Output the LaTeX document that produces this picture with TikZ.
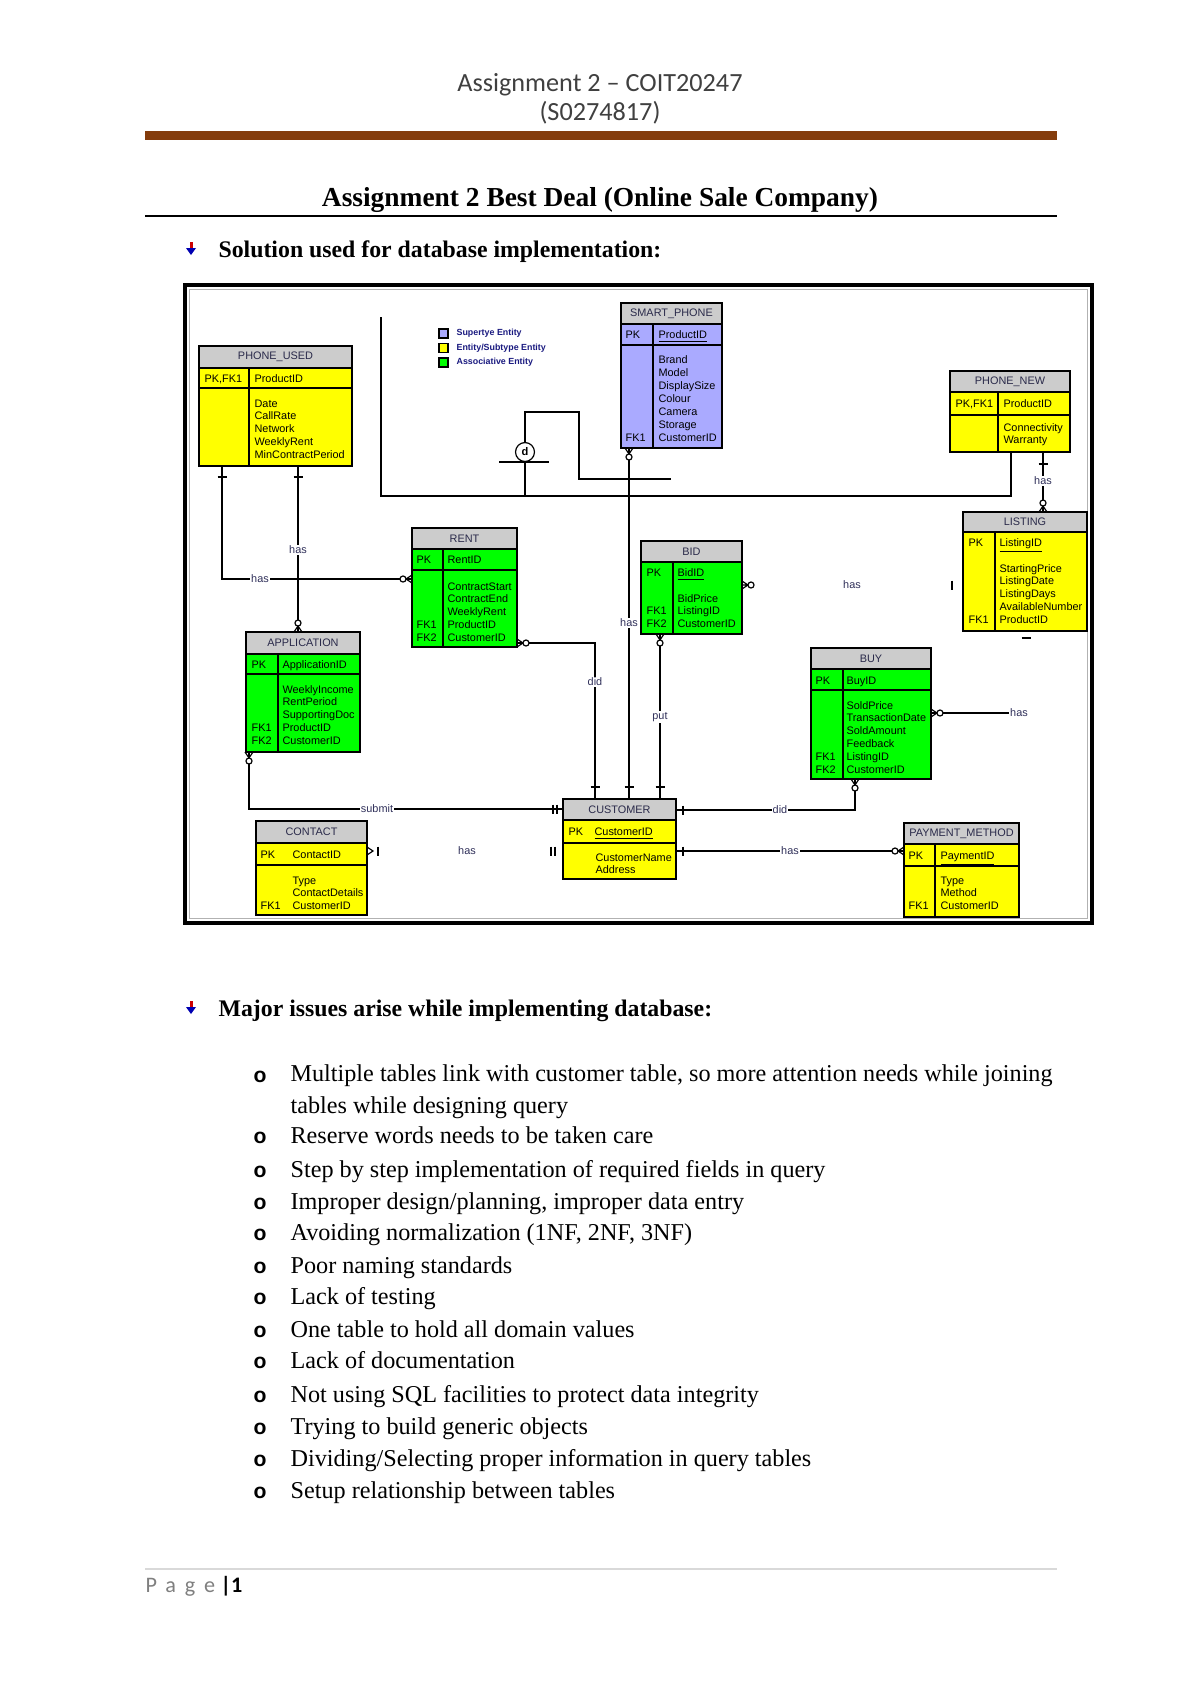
\documentclass[tikz,border=0pt]{standalone}
\usepackage{fontspec}
\setmainfont{Liberation Serif}
\newfontfamily\hdrfont{Carlito}
\newfontfamily\pagefont[LetterSpace=40]{Carlito}
\newfontfamily\erfont{Liberation Sans}
\usetikzlibrary{calc,fit}

\definecolor{barbrown}{HTML}{843C0C}
\definecolor{supcol}{HTML}{AAAAFF}
\definecolor{entcol}{HTML}{FFFF00}
\definecolor{asscol}{HTML}{00FF00}
\definecolor{headcol}{HTML}{CCCCCC}
\definecolor{titlecol}{HTML}{2A2A4A}
\definecolor{relcol}{HTML}{30305A}
\definecolor{legcol}{HTML}{1A1A80}
\definecolor{hdrgray}{HTML}{404040}
\definecolor{pagegray}{HTML}{7F7F7F}
\definecolor{rulegray}{HTML}{D9D9D9}

\begin{document}
\begin{tikzpicture}[x=0.496pt,y=-0.496pt,line width=0.6pt,
  ent/.style={draw,inner sep=0pt,outer sep=0pt},
  erfnt/.style={font=\erfont\fontsize{5.4}{6.4}\selectfont},
  etitle/.style={erfnt,text=titlecol,inner sep=0pt},
  ecol/.style={erfnt,anchor=base west,align=left,inner sep=0pt},
  rel/.style={erfnt,text=relcol,fill=white,inner sep=0.5pt},
  legbox/.style={draw,minimum size=4.4pt,inner sep=0pt},
  legtxt/.style={font=\erfont\bfseries\fontsize{4.4}{5}\selectfont,text=legcol,anchor=west,inner sep=0pt},
  dcirc/.style={circle,draw,fill=white,minimum size=9.4pt,inner sep=0pt,font=\erfont\bfseries\fontsize{5.5}{6}\selectfont},
  zmany/.pic={\draw (0,-4) -- (6,0) -- (0,4) (0,0) -- (6,0);
              \draw[fill=white] (9,0) circle (1.5pt);},
  onebar/.pic={\draw (0,-4.5) -- (0,4.5);},
  hdr/.style={font=\hdrfont\fontsize{13}{15}\selectfont,text=hdrgray,anchor=base,inner sep=0pt},
  bodytxt/.style={font=\fontsize{12}{15.4}\selectfont,anchor=base west,inner sep=0pt,align=left},
  headtxt/.style={font=\bfseries\fontsize{11.8}{14}\selectfont,anchor=base west,inner sep=0pt},
  bul/.style={font=\erfont\bfseries\fontsize{10.5}{12}\selectfont,anchor=base,inner sep=0pt}]

  \path[fill=white] (0,0) rectangle (1200,1698);

  % page header
  \node[hdr] (hd1) at (600,91) {Assignment 2 – COIT20247};
  \node[hdr] (hd2) at (600,120) {(S0274817)};
  \fill[barbrown] (145,131) rectangle (1057,140);
  \node[font=\bfseries\fontsize{13.6}{15}\selectfont,anchor=base,inner sep=0pt] (title) at (600,206)
      {Assignment 2 Best Deal (Online Sale Company)};
  \draw[line width=1.1pt] (145,216) -- (1057,216);

  \fill[red!80!black] (189.5,242) rectangle (192.5,249);
  \fill[blue!70!black] (186,248) -- (196,248) -- (191,255) -- cycle;
  \node[headtxt] (sol) at (218,257) {Solution used for database implementation:};

  % frame
  \draw[line width=2pt] (185,285) rectangle (1092,923);
  \draw[gray!60,line width=0.5pt] (189.5,289.5) rectangle (1087.5,918.5);

  % legend
  \node[legbox,fill=supcol] (lg1) at (443.5,333.5) {};
  \node[legbox,fill=entcol] (lg2) at (443.5,348) {};
  \node[legbox,fill=asscol] (lg3) at (443.5,362.5) {};
  \node[legtxt] (lt1) at (456,333.5) {Supertye Entity};
  \node[legtxt] (lt2) at (456,348) {Entity/Subtype Entity};
  \node[legtxt] (lt3) at (456,362.5) {Associative Entity};

  % PHONE_USED
  \fill[entcol] (199,346) rectangle (352,466);
  \fill[headcol] (199,346) rectangle (352,368);
  \draw (199,368) -- (352,368) (199,388) -- (352,388) (249,368) -- (249,466);
  \node[ent,fit={(199,346) (352,466)}] (pu) {};
  \node[etitle] (pu-t) at (275.5,357) {PHONE\_USED};
  \node[ecol] (pu-pk) at (204,382) {PK,FK1};
  \node[ecol] (pu-id) at (254,382) {ProductID};
  \node[ecol] (pu-a) at (254,458.6) {Date\\CallRate\\Network\\WeeklyRent\\MinContractPeriod};

  % SMART_PHONE
  \fill[supcol] (621,303) rectangle (722,448);
  \fill[headcol] (621,303) rectangle (722,324);
  \draw (621,324) -- (722,324) (621,345) -- (722,345) (653,324) -- (653,448);
  \node[ent,fit={(621,303) (722,448)}] (sp) {};
  \node[etitle] (sp-t) at (671.5,313.5) {SMART\_PHONE};
  \node[ecol] (sp-pk) at (625,338) {PK};
  \node[ecol] (sp-id) at (658,338) {\underline{ProductID}};
  \node[ecol] (sp-k) at (625,441.4) {~\\~\\~\\~\\~\\~\\FK1};
  \node[ecol] (sp-a) at (658,441.4) {Brand\\Model\\DisplaySize\\Colour\\Camera\\Storage\\CustomerID};

  % PHONE_NEW
  \fill[entcol] (950,371) rectangle (1070,452);
  \fill[headcol] (950,371) rectangle (1070,392);
  \draw (950,392) -- (1070,392) (950,415) -- (1070,415) (998,392) -- (998,452);
  \node[ent,fit={(950,371) (1070,452)}] (pn) {};
  \node[etitle] (pn-t) at (1010,381.5) {PHONE\_NEW};
  \node[ecol] (pn-pk) at (955,407.5) {PK,FK1};
  \node[ecol] (pn-id) at (1003,407.5) {ProductID};
  \node[ecol] (pn-a) at (1003,443.9) {Connectivity\\Warranty};

  % RENT
  \fill[asscol] (412,528) rectangle (517,647);
  \fill[headcol] (412,528) rectangle (517,549);
  \draw (412,549) -- (517,549) (412,570) -- (517,570) (443,549) -- (443,647);
  \node[ent,fit={(412,528) (517,647)}] (rent) {};
  \node[etitle] (rent-t) at (464.5,538.5) {RENT};
  \node[ecol] (rent-pk) at (416,563.5) {PK};
  \node[ecol] (rent-id) at (447,563.5) {RentID};
  \node[ecol] (rent-k) at (416,641.6) {~\\~\\~\\FK1\\FK2};
  \node[ecol] (rent-a) at (447,641.6) {ContractStart\\ContractEnd\\WeeklyRent\\ProductID\\CustomerID};

  % APPLICATION
  \fill[asscol] (246,632) rectangle (360,752);
  \fill[headcol] (246,632) rectangle (360,654);
  \draw (246,654) -- (360,654) (246,674) -- (360,674) (278,654) -- (278,752);
  \node[ent,fit={(246,632) (360,752)}] (app) {};
  \node[etitle] (app-t) at (303,643) {APPLICATION};
  \node[ecol] (app-pk) at (251,668) {PK};
  \node[ecol] (app-id) at (282,668) {ApplicationID};
  \node[ecol] (app-k) at (251,744.6) {~\\~\\~\\FK1\\FK2};
  \node[ecol] (app-a) at (282,744.6) {WeeklyIncome\\RentPeriod\\SupportingDoc\\ProductID\\CustomerID};

  % BID
  \fill[asscol] (641,541) rectangle (742,634);
  \fill[headcol] (641,541) rectangle (742,562);
  \draw (641,562) -- (742,562) (673,562) -- (673,634);
  \node[ent,fit={(641,541) (742,634)}] (bid) {};
  \node[etitle] (bid-t) at (691.5,551.5) {BID};
  \node[ecol] (bid-pk) at (646,576) {PK};
  \node[ecol] (bid-id) at (677,576) {\underline{BidID}};
  \node[ecol] (bid-k) at (646,627.8) {~\\FK1\\FK2};
  \node[ecol] (bid-a) at (677,627.8) {BidPrice\\ListingID\\CustomerID};

  % LISTING
  \fill[entcol] (963,512) rectangle (1087,631);
  \fill[headcol] (963,512) rectangle (1087,532);
  \draw (963,532) -- (1087,532) (995,532) -- (995,631);
  \node[ent,fit={(963,512) (1087,631)}] (list) {};
  \node[etitle] (list-t) at (1025,522) {LISTING};
  \node[ecol] (list-pk) at (968,546) {PK};
  \node[ecol] (list-id) at (999,546) {\underline{ListingID}};
  \node[ecol] (list-k) at (968,623.6) {~\\~\\~\\~\\FK1};
  \node[ecol] (list-a) at (999,623.6) {StartingPrice\\ListingDate\\ListingDays\\AvailableNumber\\ProductID};

  % BUY
  \fill[asscol] (811,648) rectangle (931,779);
  \fill[headcol] (811,648) rectangle (931,669);
  \draw (811,669) -- (931,669) (811,690) -- (931,690) (843,669) -- (843,779);
  \node[ent,fit={(811,648) (931,779)}] (buy) {};
  \node[etitle] (buy-t) at (871,658.5) {BUY};
  \node[ecol] (buy-pk) at (815,684) {PK};
  \node[ecol] (buy-id) at (846,684) {\underline{BuyID}};
  \node[ecol] (buy-k) at (815,773.5) {~\\~\\~\\~\\FK1\\FK2};
  \node[ecol] (buy-a) at (846,773.5) {SoldPrice\\TransactionDate\\SoldAmount\\Feedback\\ListingID\\CustomerID};

  % CUSTOMER
  \fill[entcol] (563,799) rectangle (676,879);
  \fill[headcol] (563,799) rectangle (676,820);
  \draw (563,820) -- (676,820) (563,843) -- (676,843);
  \node[ent,fit={(563,799) (676,879)}] (cust) {};
  \node[etitle] (cust-t) at (619.5,809.5) {CUSTOMER};
  \node[ecol] (cust-pk) at (568,835) {PK};
  \node[ecol] (cust-id) at (594,835) {\underline{CustomerID}};
  \node[ecol] (cust-a) at (595,873.9) {CustomerName\\Address};

  % CONTACT
  \fill[entcol] (256,821) rectangle (367,915);
  \fill[headcol] (256,821) rectangle (367,843);
  \draw (256,843) -- (367,843) (256,865) -- (367,865);
  \node[ent,fit={(256,821) (367,915)}] (cont) {};
  \node[etitle] (cont-t) at (311.5,832) {CONTACT};
  \node[ecol] (cont-pk) at (260,858) {PK};
  \node[ecol] (cont-id) at (292,858) {ContactID};
  \node[ecol] (cont-k) at (260,909.8) {~\\~\\FK1};
  \node[ecol] (cont-a) at (292,909.8) {Type\\ContactDetails\\CustomerID};

  % PAYMENT_METHOD
  \fill[entcol] (904,823) rectangle (1019,917);
  \fill[headcol] (904,823) rectangle (1019,844);
  \draw (904,844) -- (1019,844) (904,866) -- (1019,866) (935,844) -- (935,917);
  \node[ent,fit={(904,823) (1019,917)}] (pm) {};
  \node[etitle] (pm-t) at (961.5,833.5) {PAYMENT\_METHOD};
  \node[ecol] (pm-pk) at (908,859) {PK};
  \node[ecol] (pm-id) at (940,859) {\underline{PaymentID}};
  \node[ecol] (pm-k) at (908,909.8) {~\\~\\FK1};
  \node[ecol] (pm-a) at (940,909.8) {Type\\Method\\CustomerID};

  % subtype lines
  \coordinate (supend) at (381,317);
  \coordinate (subend) at (671,479);
  \draw (supend) |- ($(pn.south west)+(61,44)$) -- ($(pn.south west)+(61,0)$);
  \node[dcirc] (dsub) at (525,452) {d};
  \draw (dsub.south) -- ++(0,35);
  \draw (dsub.north) |- (579,412) |- (subend);
  \draw ($(dsub.south)+(-26,0)$) -- ($(dsub.south)+(24,0)$);

  % relationships
  \draw ($(pu.south west)+(23,0)$) |- ($(rent.north west)+(0,51)$);
  \draw ($(pu.south west)+(99,0)$) -- ($(app.north west)+(52,0)$);
  \draw ($(app.south west)+(3,0)$) |- ($(cust.north west)+(0,10)$);
  \draw ($(rent.south east)+(0,-4)$) -| ($(cust.north west)+(32,0)$);
  \draw ($(sp.south west)+(8,0)$) -- ($(cust.north west)+(66,0)$);
  \draw ($(bid.south west)+(19,0)$) -- ($(cust.north west)+(97,0)$);
  \draw ($(buy.south west)+(44,0)$) |- ($(cust.north east)+(0,11)$);
  \draw ($(cust.north east)+(0,52)$) -- ($(pm.north west)+(0,28)$);
  \draw ($(pn.south west)+(93,0)$) -- ($(list.north west)+(80,0)$);
  \node[rel] (buyhas) at (1019,713) {has};
  \draw ($(buy.north east)+(0,65)$) -- (buyhas.west);
  \draw ($(cont.north east)+(0,26)$) -- ($(cont.north east)+(6,30)$) -- ($(cont.north east)+(0,34)$);

  % many ends
  \pic[rotate=180] at ($(rent.north west)+(0,51)$) {zmany};
  \pic[rotate=90] at ($(app.north west)+(52,0)$) {zmany};
  \pic[rotate=-90] at ($(app.south west)+(3,0)$) {zmany};
  \pic at ($(rent.south east)+(0,-4)$) {zmany};
  \pic[rotate=-90] at ($(sp.south west)+(8,0)$) {zmany};
  \pic[rotate=-90] at ($(bid.south west)+(19,0)$) {zmany};
  \pic[rotate=-90] at ($(buy.south west)+(44,0)$) {zmany};
  \pic[rotate=180] at ($(pm.north west)+(0,28)$) {zmany};
  \pic[rotate=90] at ($(list.north west)+(80,0)$) {zmany};
  \pic at ($(bid.north east)+(0,44)$) {zmany};
  \pic at ($(buy.north east)+(0,65)$) {zmany};

  % one ends
  \pic[rotate=90] at ($(pu.south west)+(23,11)$) {onebar};
  \pic[rotate=90] at ($(pu.south west)+(99,11)$) {onebar};
  \pic[rotate=90] at ($(cust.north west)+(32,-12)$) {onebar};
  \pic[rotate=90] at ($(cust.north west)+(66,-12)$) {onebar};
  \pic[rotate=90] at ($(cust.north west)+(97,-12)$) {onebar};
  \pic at ($(cust.north west)+(-10,10)$) {onebar};
  \pic at ($(cust.north west)+(-6,10)$) {onebar};
  \pic at ($(cust.north east)+(7,11)$) {onebar};
  \pic at ($(cust.north east)+(7,52)$) {onebar};
  \pic[rotate=90] at ($(pn.south west)+(93,12)$) {onebar};
  \pic[rotate=90] at ($(list.south west)+(63,7)$) {onebar};
  \pic at (952,585) {onebar};
  \pic at ($(cont.north east)+(11,30)$) {onebar};
  \pic at ($(cust.north west)+(-12,52)$) {onebar};
  \pic at ($(cust.north west)+(-8,52)$) {onebar};

  % relationship labels
  \node[rel] (l-pur) at (260,579) {has};
  \node[rel] (l-pua) at (298,550) {has};
  \node[rel] (l-sub) at (377,809) {submit};
  \node[rel] (l-rc) at (595,682) {did};
  \node[rel] (l-sc) at (629,623) {has};
  \node[rel] (l-bc) at (660,717) {put};
  \node[rel] (l-yc) at (780,810) {did};
  \node[rel] (l-cp) at (790,851) {has};
  \node[rel] (l-pl) at (1043,481) {has};
  \node[rel] (l-bid) at (852,585) {has};
  \node[rel] (l-con) at (467,851) {has};

  % issues
  \fill[red!80!black] (189.5,1001) rectangle (192.5,1008);
  \fill[blue!70!black] (186,1007) -- (196,1007) -- (191,1014) -- cycle;
  \node[headtxt] (maj) at (218,1016) {Major issues arise while implementing database:};

  \node[bul] (b1) at (260,1082) {o};
  \node[bodytxt] (i1) at (290,1113) {Multiple tables link with customer table, so more attention needs while joining\\tables while designing query};
  \node[bul] (b2) at (260,1143) {o};
  \node[bodytxt] (i2) at (290,1143) {Reserve words needs to be taken care};
  \node[bul] (b3) at (260,1177) {o};
  \node[bodytxt] (i3) at (290,1177) {Step by step implementation of required fields in query};
  \node[bul] (b4) at (260,1209) {o};
  \node[bodytxt] (i4) at (290,1209) {Improper design/planning, improper data entry};
  \node[bul] (b5) at (260,1240) {o};
  \node[bodytxt] (i5) at (290,1240) {Avoiding normalization (1NF, 2NF, 3NF)};
  \node[bul] (b6) at (260,1273) {o};
  \node[bodytxt] (i6) at (290,1273) {Poor naming standards};
  \node[bul] (b7) at (260,1304) {o};
  \node[bodytxt] (i7) at (290,1304) {Lack of testing};
  \node[bul] (b8) at (260,1337) {o};
  \node[bodytxt] (i8) at (290,1337) {One table to hold all domain values};
  \node[bul] (b9) at (260,1368) {o};
  \node[bodytxt] (i9) at (290,1368) {Lack of documentation};
  \node[bul] (b10) at (260,1402) {o};
  \node[bodytxt] (i10) at (290,1402) {Not using SQL facilities to protect data integrity};
  \node[bul] (b11) at (260,1434) {o};
  \node[bodytxt] (i11) at (290,1434) {Trying to build generic objects};
  \node[bul] (b12) at (260,1466) {o};
  \node[bodytxt] (i12) at (290,1466) {Dividing/Selecting proper information in query tables};
  \node[bul] (b13) at (260,1498) {o};
  \node[bodytxt] (i13) at (290,1498) {Setup relationship between tables};

  % footer
  \draw[rulegray] (145,1569) -- (1057,1569);
  \node[anchor=base west,inner sep=0pt,font=\fontsize{11}{13}\selectfont] (pg) at (145,1592)
      {{\pagefont\color{pagegray}Page} {\hdrfont\bfseries|1}};
\end{tikzpicture}
\end{document}
